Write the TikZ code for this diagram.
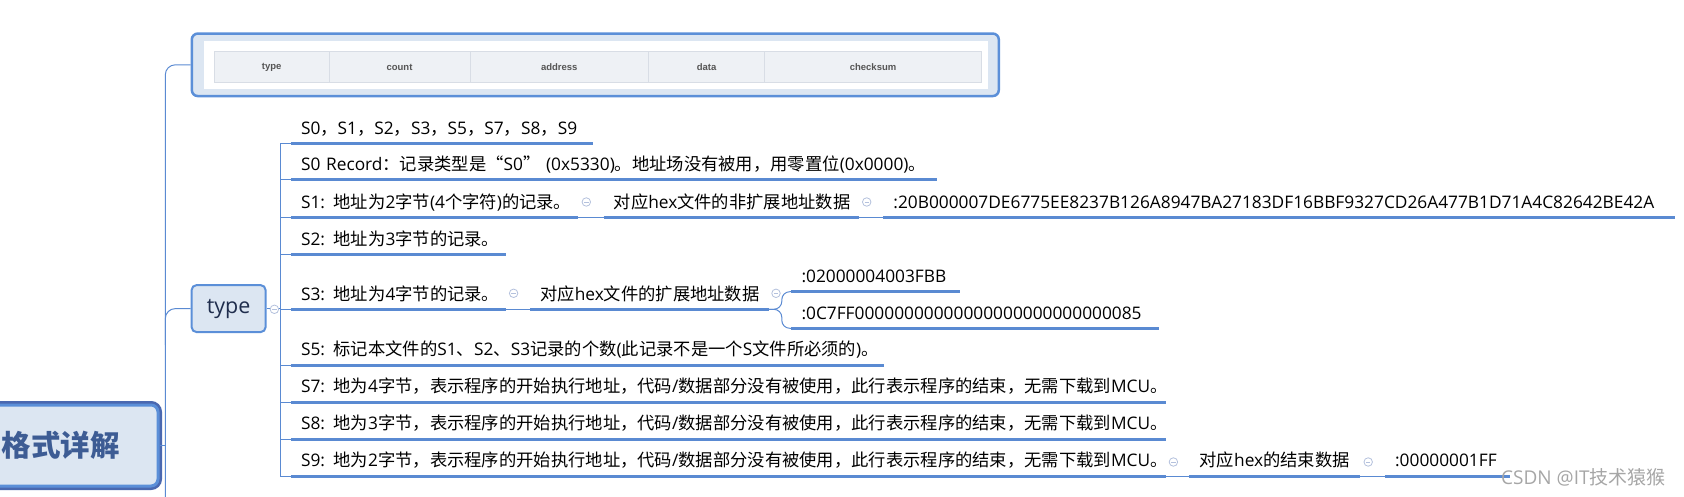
\documentclass[tikz,border=0pt]{standalone}
\usepackage{fontspec}
\setmainfont{Open Sans}
\newfontfamily\cjkf{Noto Sans CJK SC}
\newfontfamily\arialf{Liberation Sans}
\newcount\cc
\cc="21 \loop \XeTeXcharclass\cc=0 \advance\cc by 1 \ifnum\cc<"3000 \repeat
\cc="3000 \loop \XeTeXcharclass\cc=100 \advance\cc by 1 \ifnum\cc<"3040 \repeat
\cc="4E00 \loop \XeTeXcharclass\cc=100 \advance\cc by 1 \ifnum\cc<"A000 \repeat
\cc="FF00 \loop \XeTeXcharclass\cc=100 \advance\cc by 1 \ifnum\cc<"FFF0 \repeat
\XeTeXcharclass"201C=100
\XeTeXcharclass"201D=100
\XeTeXinterchartoks 0 100 = {\begingroup\cjkf}
\XeTeXinterchartoks 4095 100 = {\begingroup\cjkf}
\XeTeXinterchartoks 100 0 = {\endgroup}
\XeTeXinterchartoks 100 4095 = {\endgroup}
\XeTeXinterchartokenstate=1

\definecolor{ul}{HTML}{5A8AD2}
\definecolor{bfill}{HTML}{DCE6F2}
\definecolor{bline}{HTML}{5B8FD8}
\definecolor{dline}{HTML}{4A68B0}
\definecolor{mtext}{HTML}{3D5C94}
\definecolor{ttext}{HTML}{1F2D4D}
\definecolor{cellf}{HTML}{EEF1F5}
\definecolor{celld}{HTML}{D8DDE5}
\definecolor{celltext}{HTML}{555555}
\definecolor{circ}{HTML}{B4C1DD}
\definecolor{wm}{HTML}{A6A6A6}

\tikzset{
  leaf/.style={anchor=south west, inner xsep=10pt, inner ysep=0pt,
    text height=15pt, text depth=9pt, align=left,
    font=\fontsize{17.3}{20}\selectfont, text width=#1},
  uline/.style={draw=ul, line width=3pt},
  conn/.style={draw=ul, line width=1pt},
  collapse/.style={circle, draw=circ, line width=0.8pt, fill=white,
    minimum size=8.5pt, inner sep=0pt,
    path picture={\draw[circ, line width=0.8pt]
      ([xshift=-2.2pt]path picture bounding box.center) --
      ([xshift=2.2pt]path picture bounding box.center);}},
  cell/.style={draw=celld, line width=0.8pt, fill=cellf, inner sep=0pt,
    minimum height=30.6pt, text=celltext,
    font=\arialf\bfseries\fontsize{9.5}{11}\selectfont},
}

\begin{document}
\begin{tikzpicture}[x=1pt, y=-1pt]
\useasboundingbox (0,0) rectangle (1684,497);
\clip (0,0) rectangle (1684,497);

% top box with table
\node[draw=bline, line width=2.5pt, fill=bfill, rounded corners=6pt,
  minimum width=807pt, minimum height=62.5pt, inner sep=0pt] (topbox) at (595.3,64.8) {};
\fill[white] (204,41) rectangle (988.4,89.3);
\node[cell, minimum width=114.7pt] (t1) at (271.65,67) {type};
\node[cell, minimum width=141pt] (t2) at (399.5,67) {count};
\node[cell, minimum width=178.6pt] (t3) at (559.3,67) {address};
\node[cell, minimum width=116pt] (t4) at (706.6,67) {data};
\node[cell, minimum width=216.9pt] (t5) at (873.05,67) {checksum};

% main node (left part cropped by the picture edge)
\node[draw=bline, line width=3pt, fill=bfill, rounded corners=7pt,
  preaction={draw=dline, line width=8pt},
  minimum height=81pt, inner xsep=0pt, inner ysep=0pt,
  text width=194pt, align=right, text height=26pt, text depth=4pt,
  font=\cjkf\bfseries\fontsize{29.5}{32}\selectfont, text=mtext] (main) at (61,445.5) {\mbox{格式详解}\hspace*{38pt}};

% type node
\node[draw=bline, line width=2pt, fill=bfill, rounded corners=5pt,
  minimum width=74pt, minimum height=47pt, inner sep=0pt,
  font=\fontsize{21.5}{24}\selectfont, text=ttext] (type) at (228.6,308.6) {type};

% leaves
\node[leaf=281.6pt] (a1) at (290.8,143.3) {\mbox{S0，S1，S2，S3，S5，S7，S8，S9}};
\node[leaf=626pt] (a2) at (290.8,180) {\mbox{S0 Record：记录类型是“S0” (0x5330)。地址场没有被用，用零置位(0x0000)。}};
\node[leaf=267.1pt] (a3) at (290.8,217.3) {\mbox{S1: 地址为2字节(4个字符)的记录。}};
\node[leaf=194.4pt] (a4) at (290.8,254.3) {\mbox{S2: 地址为3字节的记录。}};
\node[leaf=194.4pt] (a5) at (290.8,309.3) {\mbox{S3: 地址为4字节的记录。}};
\node[leaf=572.4pt] (a6) at (290.8,365) {\mbox{S5: 标记本文件的S1、S2、S3记录的个数(此记录不是一个S文件所必须的)。}};
\node[leaf=854.8pt] (a7) at (290.8,402) {\mbox{S7: 地为4字节，表示程序的开始执行地址，代码/数据部分没有被使用，此行表示程序的结束，无需下载到MCU。}};
\node[leaf=854.8pt] (a8) at (290.8,439) {\mbox{S8: 地为3字节，表示程序的开始执行地址，代码/数据部分没有被使用，此行表示程序的结束，无需下载到MCU。}};
\node[leaf=854.8pt] (a9) at (290.8,476) {\mbox{S9: 地为2字节，表示程序的开始执行地址，代码/数据部分没有被使用，此行表示程序的结束，无需下载到MCU。}};

\node[leaf=234.8pt] (b3) at (603.5,217.3) {\mbox{对应hex文件的非扩展地址数据}};
\node[leaf=771.5pt] (c3) at (883.2,217.3) {\mbox{:20B000007DE6775EE8237B126A8947BA27183DF16BBF9327CD26A477B1D71A4C82642BE42A}};
\node[leaf=218.4pt] (b5) at (530,309.3) {\mbox{对应hex文件的扩展地址数据}};
\node[leaf=148.4pt] (c5a) at (791.3,291.7) {\mbox{:02000004003FBB}};
\node[leaf=347.4pt] (c5b) at (791.3,328.3) {\mbox{:0C7FF{000000000}{000000000}{000000000}85}};
\node[leaf=150.6pt] (b9) at (1189.4,476) {\mbox{对应hex的结束数据}};
\node[leaf=104.8pt] (c9) at (1384.9,476) {\mbox{:00000001FF}};

% underlines
\foreach \n in {a1,a2,a3,a4,a5,a6,a7,a8,a9,b3,c3,b5,c5a,c5b,b9,c9}
  \draw[uline] (\n.south west) -- (\n.south east);

% trunk and branches
\draw[conn, rounded corners=10pt] (165.3,497) -- (165.3,64.8) -- (topbox.west);
\draw[conn] (main.east) -- (165.3,445.5);
\draw[conn, rounded corners=10pt] (165.3,345) -- (165.3,308.6) -- (type.west);

\coordinate (bus) at (280.5,309.3);
\draw[conn] (type.east) -- (type.east -| bus);
\foreach \n in {a1,a2,a3,a4,a5,a6,a7,a8,a9}
  \draw[conn] (bus) |- (\n.south west);

\draw[conn] (a3.south east) -- (b3.south west);
\draw[conn] (b3.south east) -- (c3.south west);
\draw[conn] (a5.south east) -- (b5.south west);
\coordinate (j5) at (781.8,309.3);
\draw[conn, rounded corners=8pt] (b5.south east) -- (j5) |- (c5a.south west);
\draw[conn, rounded corners=8pt] (b5.south east) -- (j5) |- (c5b.south west);
\draw[conn] (a9.south east) -- (b9.south west);
\draw[conn] (b9.south east) -- (c9.south west);

% collapse markers
\node[collapse] (k0) at (274.4,309.3) {};
\node[collapse] (k1) at (586.3,202) {};
\node[collapse] (k2) at (866.7,202) {};
\node[collapse] (k3) at (513.6,293.3) {};
\node[collapse] (k4) at (776,293.3) {};
\node[collapse] (k5) at (1173.4,462) {};
\node[collapse] (k6) at (1368.2,462) {};

% watermark
\node[anchor=west, inner sep=0pt, text=wm, font=\fontsize{19}{21}\selectfont] (wmk) at (1501,477) {CSDN @IT技术猿猴};
\end{tikzpicture}
\end{document}
